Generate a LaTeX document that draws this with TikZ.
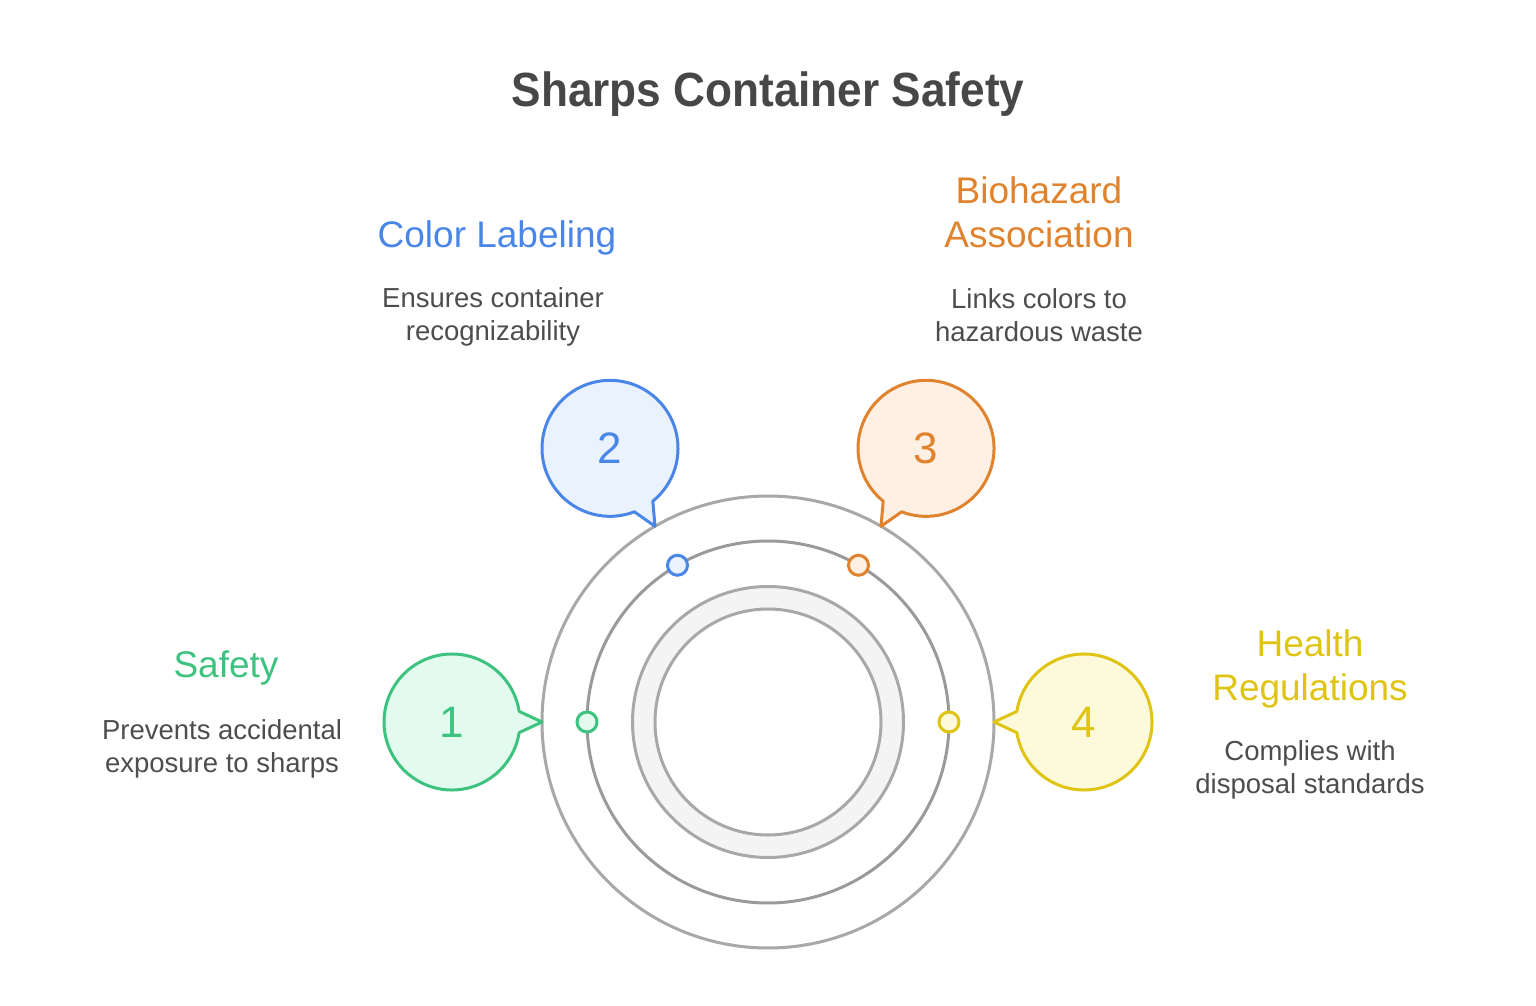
\documentclass[tikz,border=0pt]{standalone}
\usepackage{fontspec}
\setmainfont{Liberation Sans}
\newfontfamily\titlefont[FakeStretch=0.92]{Liberation Sans}

\definecolor{titleink}{HTML}{474747}
\definecolor{ink}{HTML}{4D4D4D}
\definecolor{ringgray}{HTML}{A8A8A8}
\definecolor{ringdark}{HTML}{9A9A9A}
\definecolor{bandfill}{HTML}{F4F4F4}
\definecolor{cgreen}{HTML}{3DC27F}
\definecolor{cgreenlt}{HTML}{E2FBEE}
\definecolor{cblue}{HTML}{4A86E8}
\definecolor{cbluelt}{HTML}{EAF2FE}
\definecolor{corange}{HTML}{E0832F}
\definecolor{corangelt}{HTML}{FEF0E3}
\definecolor{cyellow}{HTML}{DFC414}
\definecolor{cyellowlt}{HTML}{FDF9DB}

\begin{document}
\begin{tikzpicture}[x=1pt,y=1pt,
        ring/.style={draw=ringgray, line width=3pt},
        bub/.style={line width=3pt, line join=round},
        dot/.style={circle, line width=3pt, inner sep=0pt, minimum size=20pt},
        num/.style={font=\fontsize{44}{44}\selectfont},
        head/.style={anchor=base, align=center, font=\fontsize{37}{44}\selectfont},
        desc/.style={anchor=base, align=center, text=ink,
                        font=\fontsize{27.5}{33}\selectfont}]
\useasboundingbox (0,0) rectangle (1536,1005);

\node[anchor=base, text=titleink, font=\titlefont\bfseries\fontsize{48}{48}\selectfont]
    (title) at (768,898) {Sharps Container Safety};

\begin{scope}[shift={(768,283)}]
    \draw[ring] (0,0) circle[radius=226];
    \draw[ring, draw=ringdark] (0,0) circle[radius=181];
    \draw[ring, fill=bandfill, even odd rule]
        (0,0) circle[radius=135.5] (0,0) circle[radius=113];
    \foreach \i/\a/\col in {1/180/cgreen, 2/120/cblue, 3/60/corange, 4/0/cyellow} {
        \node[dot, draw=\col, fill=\col lt] (dot\i) at (\a:181) {};
        \draw[bub, draw=\col, fill=\col lt]
            (\a:316) ++(\a+189:68) arc[start angle=\a+189, end angle=\a+531, radius=68]
            -- (\a:226) -- cycle;
        \node[num, text=\col] (n\i) at (\a:316) {\i};
    }
\end{scope}

% base anchor sits on the last line
\node[head, text=cgreen] (h1) at (226,328) {Safety};
\node[desc] (d1) at (222,233) {Prevents accidental\\exposure to sharps};
\node[head, text=cblue] (h2) at (497,757) {Color Labeling};
\node[desc] (d2) at (493,664) {Ensures container\\recognizability};
\node[head, text=corange] (h3) at (1039,757) {Biohazard\\Association};
\node[desc] (d3) at (1039,663) {Links colors to\\hazardous waste};
\node[head, text=cyellow] (h4) at (1310,305) {Health\\Regulations};
\node[desc] (d4) at (1310,212) {Complies with\\disposal standards};
\end{tikzpicture}
\end{document}
